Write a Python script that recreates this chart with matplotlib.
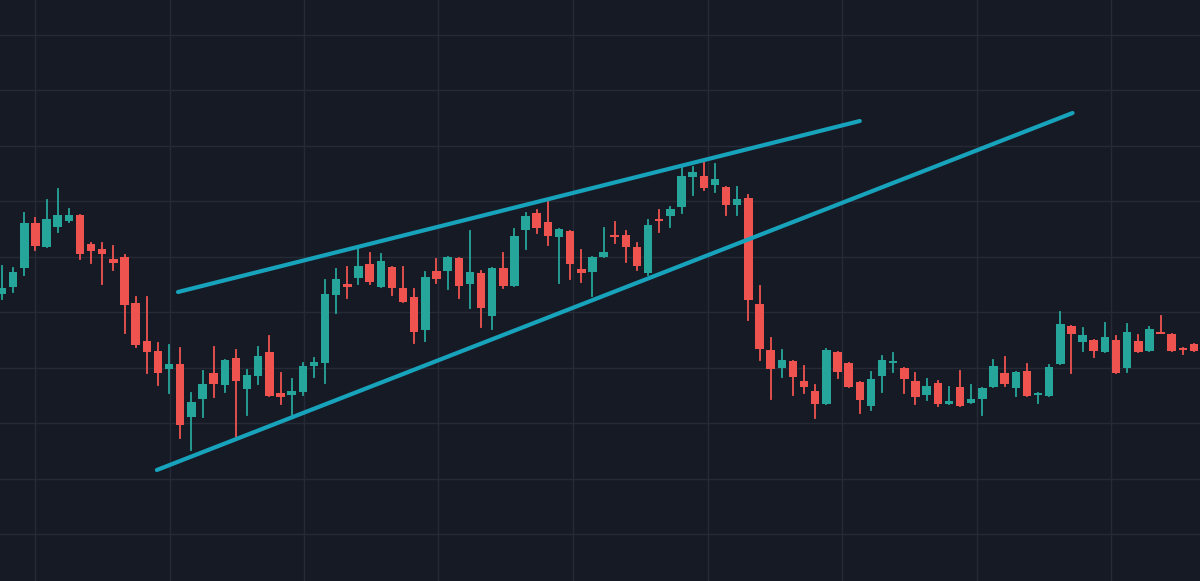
import matplotlib.pyplot as plt
from matplotlib.patches import Rectangle

# candle data (screen-level units, larger = lower on chart)
opens = [294, 287, 268, 223, 247, 227, 221, 215, 244, 249, 259, 257, 303, 341, 351, 369, 364, 417,
         399, 373, 385, 358, 389, 376, 352, 393, 395, 392, 366, 363, 295, 284, 278, 264, 287, 267,
         288, 297, 330, 271, 271, 258, 284, 273, 316, 268, 286, 230, 213, 222, 237, 231, 269, 272,
         257, 235, 235, 247, 273, 219, 216, 207, 177, 176, 185, 187, 205, 198, 304, 350, 368, 361,
         381, 391, 404, 352, 363, 382, 406, 376, 362, 368, 381, 395, 383, 404, 387, 403, 399, 387,
         373, 388, 371, 394, 396, 364, 326, 342, 340, 352, 340, 368, 341, 351, 332, 334, 348, 344]
closes = [288, 272, 223, 246, 219, 215, 215, 254, 251, 254, 263, 305, 345, 352, 373, 364, 425, 402,
          384, 384, 360, 381, 375, 356, 396, 397, 391, 366, 362, 294, 279, 287, 266, 282, 261, 288,
          302, 332, 277, 279, 257, 286, 272, 308, 268, 286, 236, 216, 228, 236, 229, 264, 273, 257,
          252, 237, 247, 266, 225, 221, 209, 176, 172, 188, 179, 205, 199, 300, 349, 369, 360, 377,
          387, 404, 350, 372, 387, 400, 379, 360, 361, 379, 397, 386, 404, 401, 406, 399, 388, 366,
          384, 372, 396, 393, 367, 324, 334, 335, 351, 337, 373, 332, 352, 329, 333, 351, 349, 351]
highs = [266, 268, 213, 218, 200, 189, 209, 215, 243, 243, 246, 255, 297, 297, 343, 345, 348, 393,
         371, 347, 360, 350, 370, 347, 336, 373, 379, 363, 358, 280, 269, 267, 248, 253, 254, 267,
         267, 289, 272, 259, 257, 258, 231, 271, 268, 253, 229, 213, 210, 202, 229, 231, 250, 257,
         228, 222, 231, 243, 220, 210, 207, 167, 167, 160, 164, 187, 187, 195, 286, 338, 350, 361,
         366, 385, 349, 352, 363, 382, 372, 356, 353, 368, 373, 379, 381, 387, 371, 385, 388, 360,
         357, 372, 364, 393, 365, 312, 326, 328, 340, 323, 336, 324, 335, 327, 316, 334, 348, 344]
lows = [299, 292, 275, 250, 247, 232, 222, 259, 263, 284, 270, 333, 347, 373, 385, 393, 438, 450,
        417, 397, 392, 438, 415, 384, 396, 404, 415, 395, 377, 383, 313, 298, 284, 284, 287, 295,
        302, 343, 341, 283, 289, 298, 308, 327, 329, 288, 286, 249, 233, 245, 283, 279, 282, 296,
        257, 243, 262, 270, 275, 232, 227, 213, 195, 190, 192, 215, 215, 320, 360, 399, 377, 395,
        393, 418, 404, 378, 387, 413, 410, 392, 372, 393, 404, 400, 406, 404, 406, 403, 415, 387,
        386, 396, 396, 403, 396, 364, 373, 351, 357, 352, 373, 372, 352, 351, 333, 351, 354, 351]

# wedge trend lines: (candle index, level)
upper_x = [15.8, 77.0]
upper_y = [292, 121]
lower_x = [13.9, 96.1]
lower_y = [470, 113]

BG = "#161a25"
GRID = "#262a36"
UP = "#26a69a"
DOWN = "#ef5350"
LINE = "#16a3bb"

fig = plt.figure(figsize=(12, 5.81), dpi=100)
fig.patch.set_facecolor(BG)
ax = fig.add_axes([0, 0, 1, 1])
ax.set_facecolor(BG)

step = 11.14
ax.set_xlim(-2 / step, 1198 / step)
ax.set_ylim(581, 0)

# grid
for gy in [34.5, 90, 145.5, 201, 256.7, 312, 367.5, 423, 478.5, 534]:
    ax.axhline(gy, color=GRID, lw=1, zorder=0)
for gx in [35, 169.5, 304, 438.5, 573, 707.5, 842, 976.5, 1111]:
    ax.axvline((gx - 2) / step, color=GRID, lw=1, zorder=0)

for i in range(len(opens)):
    o, c = opens[i], closes[i]
    col = UP if c <= o else DOWN
    ax.plot([i, i], [lows[i], highs[i]], color=col, lw=1.3, zorder=2)
    top = min(o, c)
    h = max(abs(o - c), 1.5)
    ax.add_patch(Rectangle((i - 0.38, top), 0.76, h, facecolor=col, edgecolor="none", zorder=3))

ax.plot(upper_x, upper_y, color=LINE, lw=3, solid_capstyle="round", zorder=4)
ax.plot(lower_x, lower_y, color=LINE, lw=3, solid_capstyle="round", zorder=4)

ax.axis("off")
fig.savefig("out.png", dpi=100, facecolor=BG)
